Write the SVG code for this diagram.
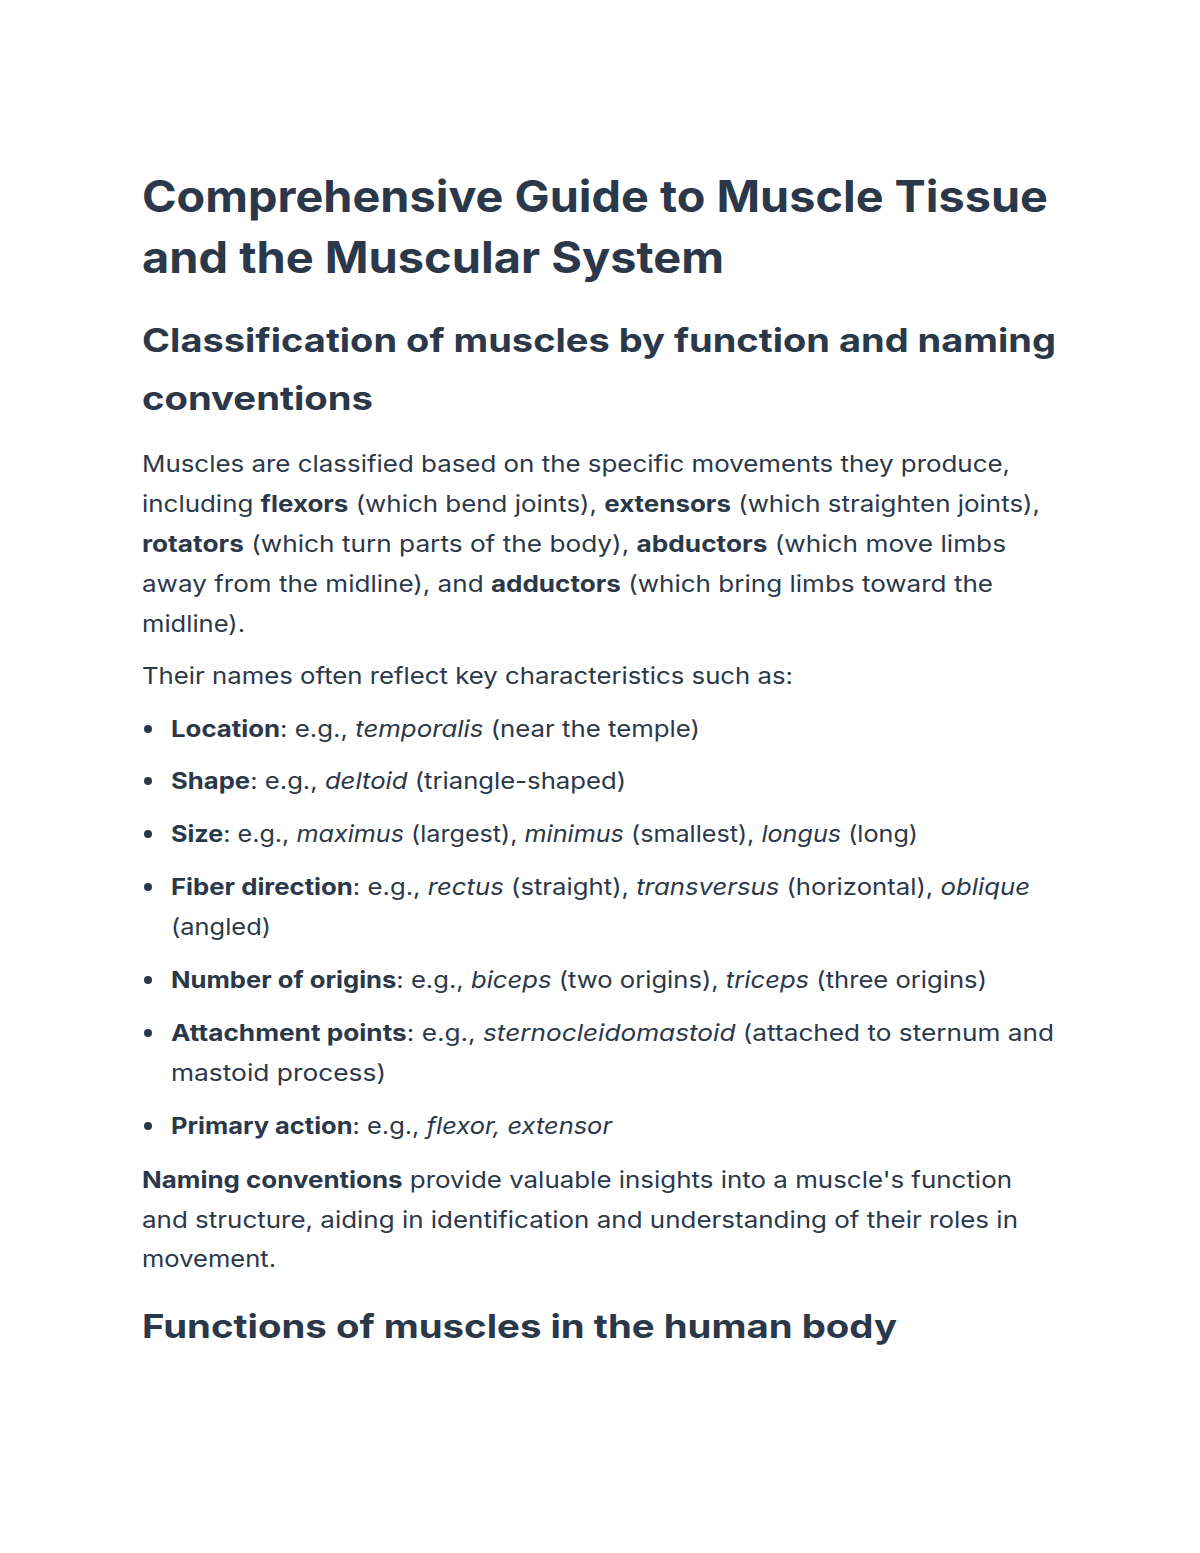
<svg xmlns="http://www.w3.org/2000/svg" width="1200" height="1553" viewBox="0 0 1200 1553">
<style>
text{font-family:Inter,"Noto Sans","Liberation Sans",sans-serif;fill:#2b3849}
.t{font-size:44px;font-weight:700}
.h{font-size:33px;font-weight:700}
.b{font-size:23px}
.s{font-weight:700}
.i{font-style:italic}
circle{fill:#2b3849}
</style>
<rect width="1200" height="1553" fill="#fff"/>
<text class="t" x="142" y="212" textLength="906" lengthAdjust="spacingAndGlyphs">Comprehensive Guide to Muscle Tissue</text>
<text class="t" x="142" y="273" textLength="582" lengthAdjust="spacingAndGlyphs">and the Muscular System</text>
<text class="h" x="142" y="352" textLength="914" lengthAdjust="spacingAndGlyphs">Classification of muscles by function and naming</text>
<text class="h" x="142" y="410" textLength="231" lengthAdjust="spacingAndGlyphs">conventions</text>
<text class="b" x="142" y="472" textLength="868" lengthAdjust="spacingAndGlyphs">Muscles are classified based on the specific movements they produce,</text>
<text class="b" x="142" y="512" textLength="898" lengthAdjust="spacingAndGlyphs">including <tspan class="s">flexors</tspan> (which bend joints), <tspan class="s">extensors</tspan> (which straighten joints),</text>
<text class="b" x="142" y="552" textLength="864" lengthAdjust="spacingAndGlyphs"><tspan class="s">rotators</tspan> (which turn parts of the body), <tspan class="s">abductors</tspan> (which move limbs</text>
<text class="b" x="142" y="592" textLength="851" lengthAdjust="spacingAndGlyphs">away from the midline), and <tspan class="s">adductors</tspan> (which bring limbs toward the</text>
<text class="b" x="142" y="632" textLength="103" lengthAdjust="spacingAndGlyphs">midline).</text>
<text class="b" x="142" y="684" textLength="651" lengthAdjust="spacingAndGlyphs">Their names often reflect key characteristics such as:</text>
<g>
<circle cx="148" cy="729" r="4"/><circle cx="148" cy="781" r="4"/><circle cx="148" cy="834" r="4"/><circle cx="148" cy="887" r="4"/><circle cx="148" cy="980" r="4"/><circle cx="148" cy="1033" r="4"/><circle cx="148" cy="1126" r="4"/>
</g>
<text class="b" x="171" y="737" textLength="529" lengthAdjust="spacingAndGlyphs"><tspan class="s">Location</tspan>: e.g., <tspan class="i">temporalis</tspan> (near the temple)</text>
<text class="b" x="171" y="789" textLength="455" lengthAdjust="spacingAndGlyphs"><tspan class="s">Shape</tspan>: e.g., <tspan class="i">deltoid</tspan> (triangle-shaped)</text>
<text class="b" x="171" y="842" textLength="747" lengthAdjust="spacingAndGlyphs"><tspan class="s">Size</tspan>: e.g., <tspan class="i">maximus</tspan> (largest), <tspan class="i">minimus</tspan> (smallest), <tspan class="i">longus</tspan> (long)</text>
<text class="b" x="171" y="895" textLength="859" lengthAdjust="spacingAndGlyphs"><tspan class="s">Fiber direction</tspan>: e.g., <tspan class="i">rectus</tspan> (straight), <tspan class="i">transversus</tspan> (horizontal), <tspan class="i">oblique</tspan></text>
<text class="b" x="171" y="935" textLength="100" lengthAdjust="spacingAndGlyphs">(angled)</text>
<text class="b" x="171" y="988" textLength="816" lengthAdjust="spacingAndGlyphs"><tspan class="s">Number of origins</tspan>: e.g., <tspan class="i">biceps</tspan> (two origins), <tspan class="i">triceps</tspan> (three origins)</text>
<text class="b" x="171" y="1041" textLength="883" lengthAdjust="spacingAndGlyphs"><tspan class="s">Attachment points</tspan>: e.g., <tspan class="i">sternocleidomastoid</tspan> (attached to sternum and</text>
<text class="b" x="171" y="1081" textLength="215" lengthAdjust="spacingAndGlyphs">mastoid process)</text>
<text class="b" x="171" y="1134" textLength="441" lengthAdjust="spacingAndGlyphs"><tspan class="s">Primary action</tspan>: e.g., <tspan class="i">flexor, extensor</tspan></text>
<text class="b" x="142" y="1188" textLength="870" lengthAdjust="spacingAndGlyphs"><tspan class="s">Naming conventions</tspan> provide valuable insights into a muscle's function</text>
<text class="b" x="142" y="1228" textLength="876" lengthAdjust="spacingAndGlyphs">and structure, aiding in identification and understanding of their roles in</text>
<text class="b" x="142" y="1267" textLength="134" lengthAdjust="spacingAndGlyphs">movement.</text>
<text class="h" x="142" y="1338" textLength="755" lengthAdjust="spacingAndGlyphs">Functions of muscles in the human body</text>
</svg>
